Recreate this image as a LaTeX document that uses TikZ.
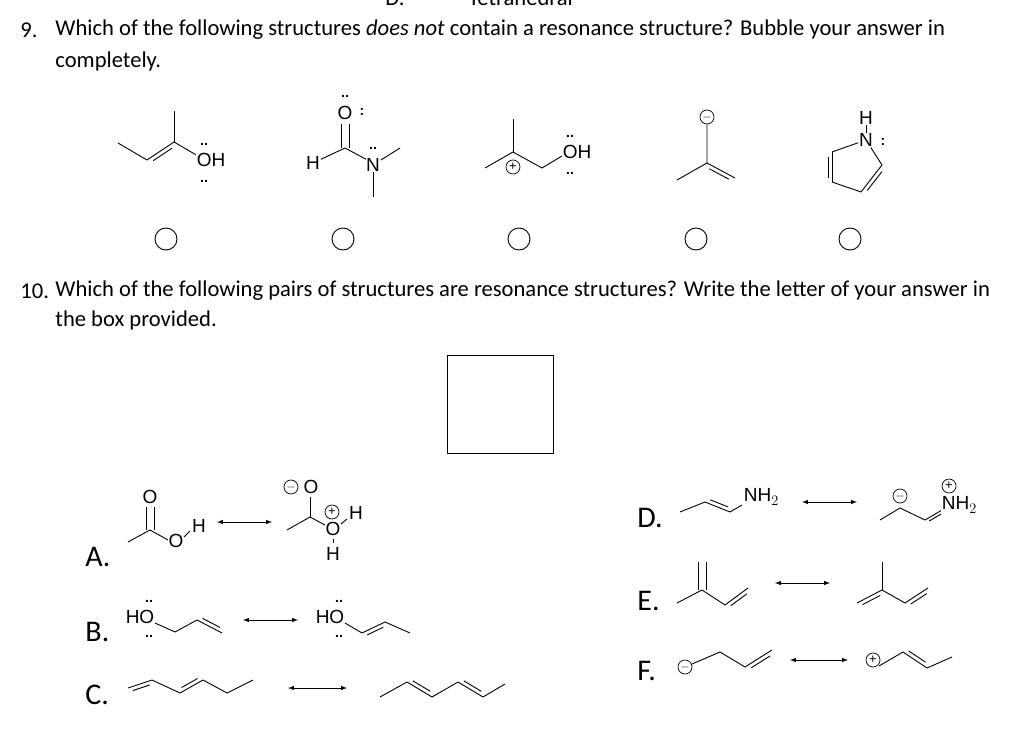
\documentclass[tikz,border=0pt]{standalone}
\usepackage{fontspec}
\setmainfont{Carlito}
\newfontfamily\chem{Liberation Sans}
\usetikzlibrary{calc}
\newcommand{\dbond}[3]{\draw (#1)--(#2); \draw ($(#1)!0.15!(#2)!#3!90:(#2)$) -- ($(#2)!0.15!(#1)!#3!-90:(#1)$);}
\begin{document}
\begin{tikzpicture}[x=1pt,y=-1pt,line width=0.9pt,
  q/.style={anchor=west,font=\fontsize{22.6}{26}\selectfont,inner sep=0},
  lab/.style={anchor=west,font=\fontsize{30}{34}\selectfont,inner sep=0},
  atm/.style={font=\chem\fontsize{19}{21}\selectfont,inner sep=0.5pt,fill=white},
  chg/.style={circle,draw,line width=0.7pt,minimum size=14pt,inner sep=0,font=\chem\fontsize{13}{13}\selectfont,fill=white},
  lp/.style={font=\chem\bfseries\fontsize{14}{14}\selectfont,inner sep=0},
  bub/.style={circle,draw,line width=0.9pt,minimum size=22pt,inner sep=0},
  arr/.style={<->,>=latex,line width=1pt}]
\clip (0,0) rectangle (1028,752);
\fill[white] (0,0) rectangle (1028,752);
\node[q] (dd) at (385,-2) {D.};
\node[q] (tt) at (468,-2) {Tetrahedral};
% Q9
\node[q] (n9) at (20,30) {9.};
\node[q] (t9) at (55,30) {Which of the following structures \textit{does not} contain a resonance structure? Bubble your answer in};
\node[q] (t9b) at (55,61) {completely.};
% mol1
\draw (118,143)--(147,160);
\dbond{147,160}{174,142}{-4pt}
\draw (174,142)--(174,111); \draw (174,142)--(198,156);
\node[atm] (o1) at (211,160) {OH};
\node[lp] at (204,144) {..}; \node[lp] at (204,181) {..};
% mol2
\node[atm] (h2) at (313,163) {H};
\draw (h2)--(345,148);
\draw (345,148)--(373,163);
\draw (341,148)--(341,124); \draw (349,148)--(349,124);
\node[atm] (o2) at (345,113) {O};
\node[lp] at (345,96) {..}; \node[lp] at (362,112) {:};
\node[atm] (n2) at (373,165) {N};
\node[lp] at (373,148) {..};
\draw (n2)--(400,148); \draw (n2)--(373,197);
% mol3
\draw (485,168)--(513,152)--(542,168)--(562,156); \draw (513,152)--(513,119);
\node[chg] at (513,167) {+};
\node[atm] (o3) at (577,152) {OH};
\node[lp] at (570,136) {..}; \node[lp] at (570,173) {..};
% mol4
\node[chg] (m4) at (707,117) {$-$};
\draw (m4)--(707,163)--(677,180);
\dbond{707,163}{735,178}{-4pt}
% mol5 pyrrole
\node[atm] (n5) at (866,140) {N};
\node[atm] (h5) at (866,118) {H}; \draw (n5)--(h5);
\node[lp] at (883,142) {:};
\draw (n5)--(832,152);
\dbond{832,152}{832,182}{-4pt}
\draw (832,182)--(861,192);
\dbond{861,192}{882,165}{-4pt}
\draw (882,165)--(n5);
% bubbles
\foreach \x/\n in {166/a,343/b,519/c,696/d,850/e} \node[bub] (b\n) at (\x,239) {};
% Q10
\node[q] (n10) at (20,291) {10.};
\node[q] (t10) at (55,291) {Which of the following pairs of structures are resonance structures? Write the letter of your answer in};
\node[q] (t10b) at (55,320) {the box provided.};
\draw[line width=1pt] (447,355) rectangle (553,453);
% A
\node[lab] (la) at (85,557) {A.};
\draw (128,542)--(150,530)--(168,540);
\draw (146,530)--(146,507); \draw (154,530)--(154,507);
\node[atm] (oa1) at (150,497) {O};
\node[atm] (oa2) at (176,541) {O};
\draw (184,537)--(190,531);
\node[atm] (ha1) at (199,526) {H};
\draw[arr] (217,522)--(272,522);
\draw (287,530)--(310,517)--(325,525); \draw (310,517)--(310,497);
\node[atm] (oa3) at (311,487) {O};
\node[chg] at (291,487) {$-$};
\node[atm] (oa4) at (333,529) {O};
\node[chg] at (332,512) {+};
\draw (341,524)--(347,519);
\node[atm] (ha2) at (356,513) {H};
\draw (333,539)--(333,543);
\node[atm] (ha3) at (333,554) {H};
% B
\node[lab] (lb) at (85,632) {B.};
\node[atm] (ob1) at (140,617) {HO};
\node[lp] at (149,601) {..}; \node[lp] at (149,636) {..};
\draw (155,623)--(175,632)--(197,620);
\dbond{197,620}{222,633}{4pt}
\draw[arr] (243,620)--(298,620);
\node[atm] (ob2) at (330,617) {HO};
\node[lp] at (339,601) {..}; \node[lp] at (339,636) {..};
\draw (345,623)--(362,633);
\dbond{362,633}{385,622}{-4pt}
\draw (385,622)--(410,633);
% C
\node[lab] (lc) at (85,695) {C.};
\dbond{128,688}{152,680}{-4pt}
\draw (152,680)--(180,693);
\dbond{180,693}{203,680}{4pt}
\draw (203,680)--(227,693)--(253,680);
\draw[arr] (288,688)--(347,688);
\draw (380,697)--(407,682);
\dbond{407,682}{432,697}{4pt}
\draw (432,697)--(458,682);
\dbond{458,682}{483,697}{4pt}
\draw (483,697)--(505,684);
% D
\node[lab] (ld) at (637,518) {D.};
\draw (680,512)--(705,502);
\dbond{705,502}{730,512}{4pt}
\draw (730,512)--(742,505);
\node[atm,anchor=west] (nd1) at (743,497) {NH$_2$};
\draw[arr] (802,502)--(857,502);
\draw (880,520)--(900,508)--(925,520);
\node[chg] at (900,496) {$-$};
\dbond{925,520}{942,510}{-3pt}
\node[atm,anchor=west] (nd2) at (941,505) {NH$_2$};
\node[chg] at (949,486) {+};
% E
\node[lab] (le) at (637,601) {E.};
\draw (677,603)--(702,590);
\draw (698,590)--(698,562); \draw (706,590)--(706,562);
\draw (702,590)--(725,605);
\dbond{725,605}{748,588}{-4pt}
\draw[arr] (775,583)--(830,583);
\dbond{857,603}{882,590}{-4pt}
\draw (882,590)--(882,562); \draw (882,590)--(905,603);
\dbond{905,603}{928,588}{-4pt}
% F
\node[lab] (lf) at (637,671) {F.};
\node[chg] (mf) at (685,667) {$-$};
\draw (mf)--(720,652)--(745,667);
\dbond{745,667}{772,650}{-4pt}
\draw[arr] (790,660)--(848,660);
\node[chg] (pf) at (873,660) {+};
\draw (879,666)--(903,652);
\dbond{903,652}{927,668}{4pt}
\draw (927,668)--(952,657);
\end{tikzpicture}
\end{document}
